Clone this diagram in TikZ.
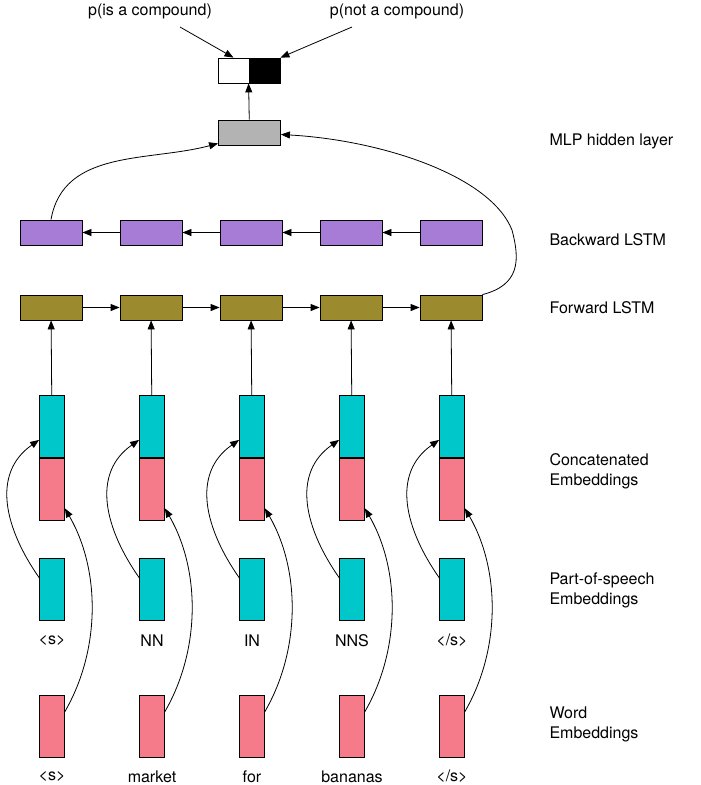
\documentclass[tikz,border=0pt]{standalone}
\usepackage{fontspec}
\setmainfont{TeX Gyre Heros}
\usetikzlibrary{arrows.meta}
\definecolor{cy}{HTML}{00C8CA}
\definecolor{pk}{HTML}{F67B8A}
\definecolor{pu}{HTML}{A67CD6}
\definecolor{ol}{HTML}{9C8B2E}
\definecolor{gr}{HTML}{B3B3B3}
\begin{document}
\begin{tikzpicture}[x=1pt,y=-1pt,font=\fontsize{16}{20}\selectfont,
  box/.style={draw,line width=0.8pt,inner sep=0pt,minimum width=62pt,minimum height=25pt},
  vbox/.style={draw,line width=0.8pt,inner sep=0pt,minimum width=25pt,minimum height=62pt},
  arr/.style={-{Triangle[length=9pt,width=7pt]},line width=0.8pt},
  lab/.style={anchor=west,align=left}]
\useasboundingbox (0,0) rectangle (701,785);
\node[box,minimum width=31pt,fill=white] (ow) at (233.5,70.5) {};
\node[box,minimum width=31pt,fill=black] (ob) at (264.5,70.5) {};
\node (pi) at (150,11) {p(is a compound)};
\node (pn) at (397,11) {p(not a compound)};
\coordinate (pis) at (180,27); \coordinate (pns) at (352,27);
\draw[arr] (pis) -- (ow.north);
\draw[arr] (pns) -- (ob.north east);
\node[box,fill=gr] (mlp) at (249.5,132.5) {};
\draw[arr] (mlp) -- (ob.south west);
\foreach \i/\x in {1/51,2/151,3/251,4/351,5/451}{
  \node[box,fill=pu] (b\i) at (\x,232.5) {};
  \node[box,fill=ol] (f\i) at (\x,307.5) {};
  \node[vbox,fill=cy] (cc\i) at (\x+1,426.5) {};
  \node[vbox,fill=pk] (cw\i) at (\x+1,489) {};
  \node[vbox,fill=cy] (p\i) at (\x+1,589) {};
  \node[vbox,fill=pk] (w\i) at (\x+1,726) {};
  \draw[arr] (cc\i) -- (f\i);
  \draw[arr] ([yshift=-20pt]p\i.north west) to[out=125,in=215,looseness=1.1] ([yshift=18pt]cc\i.south west);
  \draw[arr] ([yshift=-17pt]w\i.north east) to[out=60,in=-60,looseness=0.9] ([yshift=12pt]cw\i.south east);
}
\foreach \a/\b in {1/2,2/3,3/4,4/5}{
  \draw[arr] (f\a) -- (f\b);
  \draw[arr] (b\b) -- (b\a);
}
\foreach \i/\t/\w in {1/{<s>}/{<s>},2/NN/market,3/IN/for,4/NNS/bananas,5/{<\slash s>}/{<\slash s>}}{
  \node (pt\i) at ([yshift=-20pt]p\i.south) {\t};
  \node (wt\i) at ([yshift=-19pt]w\i.south) {\w};
}
\draw[arr] (b1.north) to[out=80,in=195] ([yshift=2pt]mlp.south west);
\draw[arr] (f5.north east) .. controls (520,285) and (520,260) .. (512,230) .. controls (490,175) and (380,140) .. ([yshift=-2pt]mlp.east);
\node[lab] at (546,141) {MLP hidden layer};
\node[lab] at (546,240) {Backward LSTM};
\node[lab] at (546,308) {Forward LSTM};
\node[lab] at (546,471) {Concatenated\\Embeddings};
\node[lab] at (546,590) {Part-of-speech\\Embeddings};
\node[lab] at (546,724) {Word\\Embeddings};
\end{tikzpicture}
\end{document}
